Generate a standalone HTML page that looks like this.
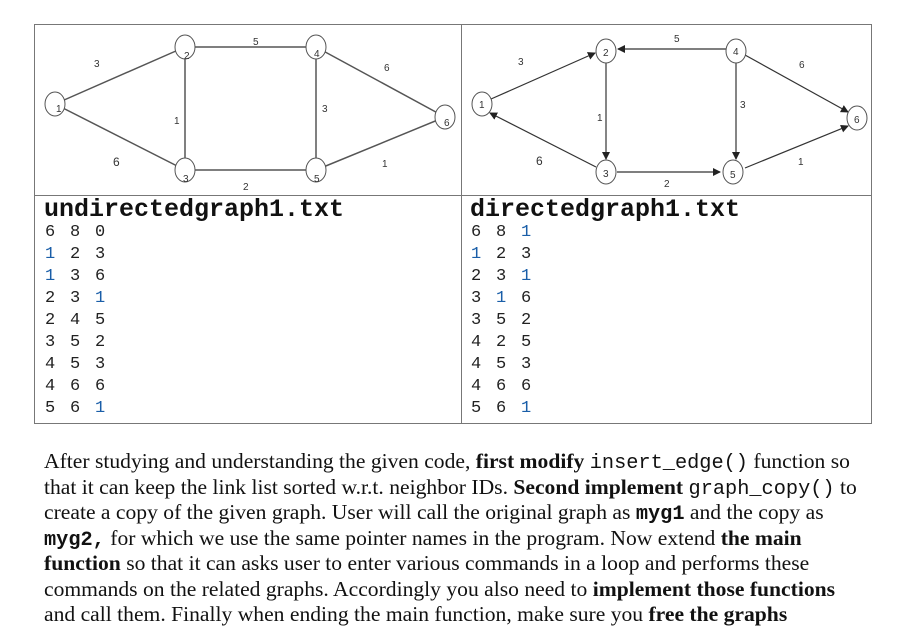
<!DOCTYPE html>
<html><head><meta charset="utf-8"><style>
body{margin:0;width:897px;height:627px;background:#fff;position:relative;overflow:hidden}
.t{position:absolute;font-family:"Liberation Mono",monospace}
.h{font-weight:bold;font-size:25px;color:#111;line-height:26px}
.l{font-size:17px;color:#222;line-height:22px;letter-spacing:2.3px}
.p{position:absolute;left:44px;font-family:"Liberation Serif",serif;font-size:21.6px;color:#111;white-space:nowrap;line-height:24px}
.m{font-family:"Liberation Mono",monospace;font-size:20.3px}
.b1{color:#1a5ea8}
</style></head><body>
<svg width="897" height="627" style="position:absolute;left:0;top:0" font-family="Liberation Sans,sans-serif" font-size="10" fill="#333">
<defs><marker id="a" markerWidth="8" markerHeight="8" refX="7" refY="4" orient="auto" markerUnits="userSpaceOnUse"><path d="M0,0 L8,4 L0,8z" fill="#222"/></marker></defs>
<rect x="34.5" y="24.5" width="837" height="399" fill="none" stroke="#777"/>
<line x1="461.5" y1="24" x2="461.5" y2="423" stroke="#777"/>
<line x1="34" y1="195.5" x2="872" y2="195.5" stroke="#777"/>
<g stroke="#555" stroke-width="1.5" fill="none">
<line x1="55" y1="104" x2="185" y2="47"/><line x1="55" y1="104" x2="185" y2="170"/>
<line x1="185" y1="47" x2="316" y2="47"/><line x1="185" y1="47" x2="185" y2="170"/>
<line x1="316" y1="47" x2="316" y2="170"/><line x1="316" y1="47" x2="445" y2="117"/>
<line x1="185" y1="170" x2="316" y2="170"/><line x1="316" y1="170" x2="445" y2="117"/>
</g>
<g stroke="#555" fill="#fff">
<ellipse cx="55" cy="104" rx="10" ry="12"/><ellipse cx="185" cy="47" rx="10" ry="12"/>
<ellipse cx="316" cy="47" rx="10" ry="12"/><ellipse cx="445" cy="117" rx="10" ry="12"/>
<ellipse cx="185" cy="170" rx="10" ry="12"/><ellipse cx="316" cy="170" rx="10" ry="12"/>
</g>
<text x="56" y="112" font-size="10">1</text><text x="184" y="59">2</text><text x="314" y="57">4</text><text x="444" y="126">6</text><text x="183" y="182">3</text><text x="314" y="182">5</text>
<text x="94" y="67">3</text><text x="253" y="45">5</text><text x="384" y="71">6</text><text x="174" y="124">1</text><text x="322" y="112">3</text><text x="113" y="166" font-size="12">6</text><text x="382" y="167">1</text><text x="243" y="190">2</text>
<g stroke="#333" stroke-width="1.2" fill="none">
<line x1="491" y1="99" x2="595" y2="53" marker-end="url(#a)"/>
<line x1="596" y1="167" x2="490" y2="113" marker-end="url(#a)"/>
<line x1="726" y1="49" x2="618" y2="49" marker-end="url(#a)"/>
<line x1="606" y1="63" x2="606" y2="159" marker-end="url(#a)"/>
<line x1="736" y1="63" x2="736" y2="159" marker-end="url(#a)"/>
<line x1="745" y1="55" x2="848" y2="112" marker-end="url(#a)"/>
<line x1="617" y1="172" x2="720" y2="172" marker-end="url(#a)"/>
<line x1="745" y1="168" x2="848" y2="126" marker-end="url(#a)"/>
</g>
<g stroke="#555" fill="#fff">
<ellipse cx="482" cy="104" rx="10" ry="12"/><ellipse cx="606" cy="51" rx="10" ry="12"/>
<ellipse cx="736" cy="51" rx="10" ry="12"/><ellipse cx="857" cy="118" rx="10" ry="12"/>
<ellipse cx="606" cy="172" rx="10" ry="12"/><ellipse cx="733" cy="172" rx="10" ry="12"/>
</g>
<text x="479" y="108">1</text><text x="603" y="56">2</text><text x="733" y="55">4</text><text x="854" y="123">6</text><text x="603" y="177">3</text><text x="730" y="178">5</text>
<text x="518" y="65">3</text><text x="674" y="42">5</text><text x="799" y="68">6</text><text x="597" y="121">1</text><text x="740" y="108">3</text><text x="536" y="165" font-size="12">6</text><text x="798" y="165">1</text><text x="664" y="187">2</text>
</svg>
<div class="t h" style="left:44px;top:197px">undirectedgraph1.txt</div>
<div class="t h" style="left:470px;top:197px">directedgraph1.txt</div>
<div class="t l" style="left:45px;top:222px">6 8 0<br><span class="b1">1</span> 2 3<br><span class="b1">1</span> 3 6<br>2 3 <span class="b1">1</span><br>2 4 5<br>3 5 2<br>4 5 3<br>4 6 6<br>5 6 <span class="b1">1</span></div>
<div class="t l" style="left:471px;top:222px">6 8 <span class="b1">1</span><br><span class="b1">1</span> 2 3<br>2 3 <span class="b1">1</span><br>3 <span class="b1">1</span> 6<br>3 5 2<br>4 2 5<br>4 5 3<br>4 6 6<br>5 6 <span class="b1">1</span></div>
<div class="p" style="top:449px">After studying and understanding the given code, <b>first modify</b> <span class="m">insert_edge()</span> function so</div>
<div class="p" style="top:475px">that it can keep the link list sorted w.r.t. neighbor IDs. <b>Second implement</b> <span class="m">graph_copy()</span> to</div>
<div class="p" style="top:500px">create a copy of the given graph. User will call the original graph as <b class="m">myg1</b> and the copy as</div>
<div class="p" style="top:526px"><b class="m">myg2,</b> for which we use the same pointer names in the program. Now extend <b>the main</b></div>
<div class="p" style="top:551px"><b>function</b> so that it can asks user to enter various commands in a loop and performs these</div>
<div class="p" style="top:577px">commands on the related graphs. Accordingly you also need to <b>implement those functions</b></div>
<div class="p" style="top:602px">and call them. Finally when ending the main function, make sure you <b>free the graphs</b></div>
</body></html>
